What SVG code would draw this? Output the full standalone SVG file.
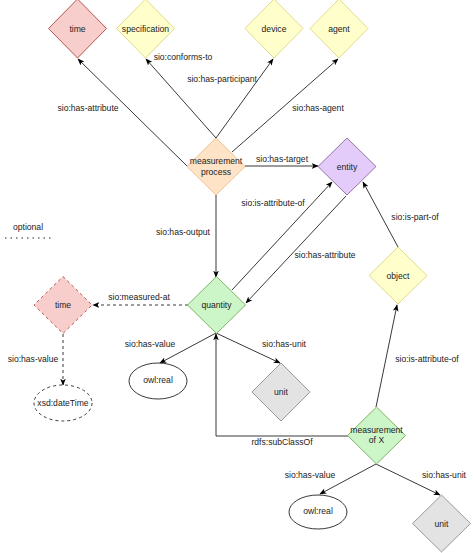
<svg xmlns="http://www.w3.org/2000/svg" width="474" height="553" viewBox="0 0 474 553">
<defs>
<marker id="arr" viewBox="0 0 10 10" refX="9" refY="5" markerWidth="7" markerHeight="7" orient="auto" markerUnits="userSpaceOnUse">
<path d="M0,1 L10,5 L0,9 L2.5,5 Z" fill="#000"/>
</marker>
</defs>
<style>
text{font-family:"Liberation Sans",Arial,sans-serif;font-size:8.6px;fill:#222;text-anchor:middle;dominant-baseline:central}
.red{fill:#f8cecc;stroke:#b85450}
.yel{fill:#ffffcc;stroke:#e3d98c}
.org{fill:#ffe3c6;stroke:#f0c290}
.pur{fill:#e3ccfa;stroke:#9673a6}
.grn{fill:#ccf5c8;stroke:#82b366}
.gry{fill:#e3e3e3;stroke:#9a9a9a}
.ell{fill:#fff;stroke:#222;stroke-width:0.9}
.dash{stroke-dasharray:3,3}
.c{fill:none;stroke:#222;stroke-width:0.9;marker-end:url(#arr)}
.cd{fill:none;stroke:#222;stroke-width:0.9;stroke-dasharray:3,3;marker-end:url(#arr)}
</style>
<rect width="474" height="553" fill="#fff"/>

<g id="connectors">
<line class="c" x1="187" y1="166" x2="78" y2="59"/>
<line class="c" x1="216" y1="138" x2="146" y2="59"/>
<line class="c" x1="216" y1="138" x2="273" y2="59"/>
<line class="c" x1="232" y1="152" x2="338" y2="59"/>
<line class="c" x1="245" y1="166" x2="318" y2="166"/>
<line class="c" x1="216" y1="195" x2="216" y2="277"/>
<line class="c" x1="232" y1="290" x2="332" y2="182"/>
<line class="c" x1="346" y1="196" x2="246" y2="303"/>
<line class="c" x1="398" y1="247" x2="363" y2="182"/>
<line class="cd" x1="188" y1="305" x2="93" y2="305"/>
<line class="cd" x1="63" y1="334" x2="63" y2="385"/>
<line class="c" x1="216" y1="333" x2="160" y2="363"/>
<line class="c" x1="216" y1="333" x2="280" y2="363"/>
<polyline class="c" points="348,436 216,436 216,334"/>
<line class="c" x1="376" y1="407" x2="397" y2="305"/>
<line class="c" x1="376" y1="464" x2="320" y2="494"/>
<line class="c" x1="376" y1="464" x2="440" y2="495"/>
<line x1="5" y1="238" x2="54" y2="238" stroke="#222" stroke-width="1" stroke-dasharray="1.5,4"/>
<text x="88" y="108">sio:has-attribute</text>
<text x="183" y="57">sio:conforms-to</text>
<text x="222" y="79">sio:has-participant</text>
<text x="318" y="108">sio:has-agent</text>
<text x="282" y="159">sio:has-target</text>
<text x="273" y="203">sio:is-attribute-of</text>
<text x="183" y="232">sio:has-output</text>
<text x="325" y="255">sio:has-attribute</text>
<text x="415" y="217">sio:is-part-of</text>
<text x="28" y="227">optional</text>
<text x="139" y="297">sio:measured-at</text>
<text x="33" y="359">sio:has-value</text>
<text x="150" y="344">sio:has-value</text>
<text x="284" y="344">sio:has-unit</text>
<text x="427" y="359">sio:is-attribute-of</text>
<text x="282" y="442">rdfs:subClassOf</text>
<text x="310" y="475">sio:has-value</text>
<text x="444" y="475">sio:has-unit</text>
</g>

<g id="time"><polygon class="red" points="77.5,-1 106.5,28.5 77.5,58 48.5,28.5"/><text x="77.5" y="28.5">time</text></g>
<g id="specification"><polygon class="yel" points="145.5,-1 174.5,28.5 145.5,58 116.5,28.5"/><text x="145.5" y="28.5">specification</text></g>
<g id="device"><polygon class="yel" points="274,-1 303,28.5 274,58 245,28.5"/><text x="274" y="28.5">device</text></g>
<g id="agent"><polygon class="yel" points="339,-1 368,28.5 339,58 310,28.5"/><text x="339" y="28.5">agent</text></g>
<g id="measurement-process"><polygon class="org" points="216,138 245,166.5 216,195 187,166.5"/><text x="216" y="161">measurement</text><text x="216" y="171.5">process</text></g>
<g id="entity"><polygon class="pur" points="347,138 376,166.5 347,195 318,166.5"/><text x="347" y="166.5">entity</text></g>
<g id="quantity"><polygon class="grn" points="216.5,276.5 245.5,305 216.5,333.5 187.5,305"/><text x="216.5" y="305">quantity</text></g>
<g id="time-optional"><polygon class="red dash" points="63,276.5 92,305 63,333.5 34,305"/><text x="63" y="305">time</text></g>
<g id="object"><polygon class="yel" points="398,247 427,275.5 398,304 369,275.5"/><text x="398" y="275.5">object</text></g>
<g id="owl-real-1"><ellipse class="ell" cx="158" cy="381" rx="29" ry="18"/><text x="158" y="380">owl:real</text></g>
<g id="unit-1"><polygon class="gry" points="281,363 310,392 281,421 252,392"/><text x="281" y="392">unit</text></g>
<g id="xsd-dateTime"><ellipse class="ell dash" cx="63" cy="403" rx="29" ry="18"/><text x="63" y="403">xsd:dateTime</text></g>
<g id="measurement-of-X"><polygon class="grn" points="376.5,407 405.5,435.5 376.5,464 347.5,435.5"/><text x="376.5" y="429.5">measurement</text><text x="376.5" y="440">of X</text></g>
<g id="owl-real-2"><ellipse class="ell" cx="318" cy="512" rx="29" ry="17"/><text x="318" y="511">owl:real</text></g>
<g id="unit-2"><polygon class="gry" points="441.5,495 470.5,523.5 441.5,552 412.5,523.5"/><text x="441.5" y="523.5">unit</text></g>
</svg>
